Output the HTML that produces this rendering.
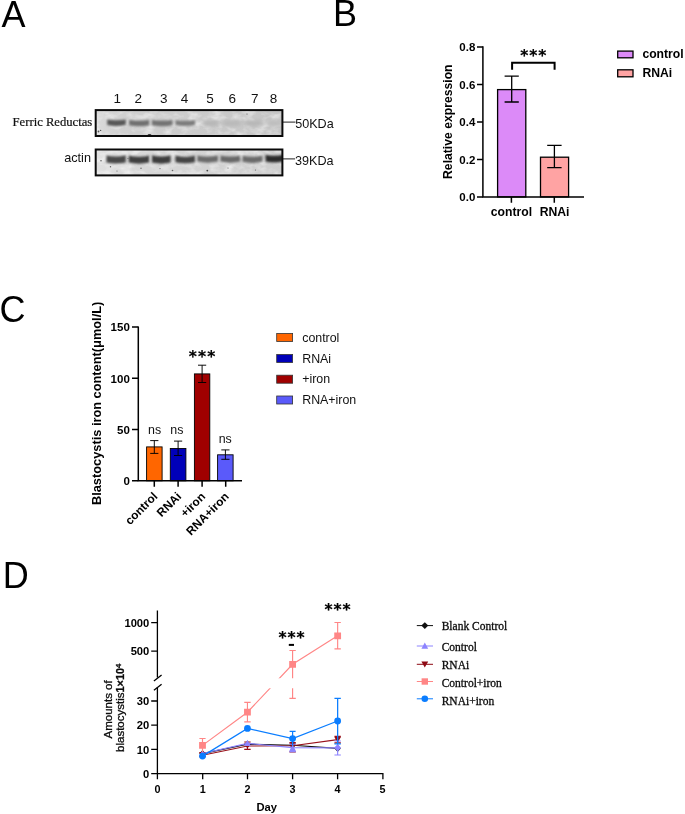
<!DOCTYPE html>
<html lang="en">
<head>
<meta charset="utf-8">
<title>Figure</title>
<style>
html,body{margin:0;padding:0;background:#fff;}
body{width:685px;height:814px;overflow:hidden;}
svg{display:block;}
.sans{font-family:"Liberation Sans",Arial,Helvetica,sans-serif;}
.serif{font-family:"Liberation Serif","Times New Roman",Times,serif;}
.b{font-weight:bold;}
.ast{font-family:"DejaVu Sans","Liberation Sans",sans-serif;font-weight:bold;}
</style>
</head>
<body>
<svg width="685" height="814" viewBox="0 0 685 814">
<defs>
<filter id="blur1" x="-20%" y="-60%" width="140%" height="220%"><feGaussianBlur stdDeviation="1.1 0.8"/></filter>
<filter id="blur0" x="-100%" y="-100%" width="300%" height="300%"><feGaussianBlur stdDeviation="0.5"/></filter>
<filter id="blur2" x="-20%" y="-50%" width="140%" height="200%"><feGaussianBlur stdDeviation="2.2 1.4"/></filter>
<filter id="noise" x="0" y="0" width="100%" height="100%">
<feTurbulence type="fractalNoise" baseFrequency="0.09 0.14" numOctaves="3" seed="7" result="n"/>
<feColorMatrix in="n" type="matrix" values="0 0 0 0 1  0 0 0 0 1  0 0 0 0 1  1.3 0 0 0 -0.55"/>
</filter>
<linearGradient id="bg1" x1="0" x2="1" y1="0" y2="0"><stop offset="0" stop-color="#dadada"/><stop offset="0.15" stop-color="#d0d0d0"/><stop offset="1" stop-color="#c5c5c5"/></linearGradient>
<linearGradient id="bg2" x1="0" x2="1" y1="0" y2="0"><stop offset="0" stop-color="#e0e0e0"/><stop offset="0.2" stop-color="#d8d8d8"/><stop offset="1" stop-color="#cecece"/></linearGradient>
<clipPath id="c1"><rect x="95.5" y="110" width="187" height="26"/></clipPath>
<clipPath id="c2"><rect x="95.5" y="149.5" width="187" height="26"/></clipPath>
</defs>

<!-- ===== Panel letters ===== -->
<g class="sans" font-size="36" fill="#000">
<text x="1.6" y="26.7">A</text>
<text x="333" y="26">B</text>
<text x="-0.4" y="322.4">C</text>
<text x="2.7" y="587.8">D</text>
</g>

<!-- ===== Panel A : western blot ===== -->
<g id="panelA">
<g class="sans" font-size="13.5" fill="#111" text-anchor="middle">
<text x="117.2" y="103">1</text><text x="138.3" y="103">2</text><text x="163.8" y="103">3</text><text x="184.6" y="103">4</text>
<text x="210.1" y="103">5</text><text x="232.3" y="103">6</text><text x="254.8" y="103">7</text><text x="273.4" y="103">8</text>
</g>
<text class="serif" font-size="12.65" x="12.6" y="125.9" fill="#111" stroke="#111" stroke-width="0.2">Ferric Reductas</text>
<text class="sans" font-size="12.7" x="64.2" y="162.1" fill="#111">actin</text>
<text class="sans" font-size="12.6" x="295.2" y="127.9" fill="#111">50KDa</text>
<text class="sans" font-size="12.6" x="295" y="164.5" fill="#111">39KDa</text>
<line x1="283" y1="122.1" x2="295.5" y2="122.1" stroke="#222" stroke-width="1"/>
<line x1="283" y1="158.9" x2="295" y2="158.9" stroke="#222" stroke-width="1"/>

<!-- blot 1 -->
<rect x="95.5" y="110" width="187" height="26" fill="url(#bg1)"/>
<g clip-path="url(#c1)">
<rect x="95.5" y="110" width="187" height="26" filter="url(#noise)" fill="#000"/>
<g filter="url(#blur1)">
<path d="M107.2 119.6Q116.5 120.8 125.8 119.6L125.8 125.0Q116.5 127.2 107.2 125.0Z" fill="#585858"/>
<path d="M129.1 120.0Q139.1 121.0 149.1 120.0L149.1 125.2Q139.1 127.4 129.1 125.2Z" fill="#707070"/>
<path d="M152.0 120.0Q162.2 121.2 172.5 120.0L172.5 125.2Q162.2 127.4 152.0 125.2Z" fill="#737373"/>
<path d="M175.4 120.2Q185.2 121.2 195.0 120.2L195.0 125.0Q185.2 127.2 175.4 125.0Z" fill="#7c7c7c"/>
</g>
<g filter="url(#blur2)">
<path d="M203.0 120.0Q211.0 120.6 219.0 120.0L219.0 125.5Q211.0 127.7 203.0 125.5Z" fill="#b8b8b8"/>
<path d="M223.0 120.0Q232.0 120.6 241.0 120.0L241.0 125.5Q232.0 127.7 223.0 125.5Z" fill="#bababa"/>
<path d="M245.0 120.0Q254.0 120.6 263.0 120.0L263.0 125.5Q254.0 127.7 245.0 125.5Z" fill="#b8b8b8"/>
<path d="M267.0 120.0Q273.5 120.6 280.0 120.0L280.0 125.5Q273.5 127.7 267.0 125.5Z" fill="#bebebe"/>
</g>
<g fill="#555" filter="url(#blur0)"><circle cx="98.5" cy="131.5" r="0.9"/><circle cx="100.6" cy="130.4" r="0.7"/><ellipse cx="149.5" cy="135.3" rx="2" ry="1.2" fill="#333"/><circle cx="247" cy="114" r="0.6"/></g>
</g>
<rect x="95.7" y="110.1" width="186.7" height="25.9" fill="none" stroke="#0a0a0a" stroke-width="2"/>

<!-- blot 2 -->
<rect x="95.5" y="149.5" width="187" height="26" fill="url(#bg2)"/>
<g clip-path="url(#c2)">
<rect x="95.5" y="149.5" width="187" height="26" filter="url(#noise)" fill="#000"/>
<g filter="url(#blur1)">
<path d="M106.4 155.2Q116.1 158.0 125.8 155.2L125.8 162.4Q116.1 164.6 106.4 162.4Z" fill="#4a4a4a"/>
<path d="M128.7 155.4Q138.9 158.2 149.1 155.4L149.1 162.6Q138.9 164.8 128.7 162.6Z" fill="#404040"/>
<path d="M152.0 155.2Q161.3 157.6 170.6 155.2L170.6 162.6Q161.3 164.8 152.0 162.6Z" fill="#3c3c3c"/>
<path d="M175.4 155.6Q185.2 158.2 195.0 155.6L195.0 162.2Q185.2 164.4 175.4 162.2Z" fill="#444"/>
<path d="M197.3 155.6Q207.7 157.6 218.0 155.6L218.0 161.6Q207.7 163.8 197.3 161.6Z" fill="#6a6a6a"/>
<path d="M220.3 155.4Q230.2 157.4 240.2 155.4L240.2 161.6Q230.2 163.8 220.3 161.6Z" fill="#686868"/>
<path d="M242.5 155.8Q252.4 157.8 262.4 155.8L262.4 161.8Q252.4 164.0 242.5 161.8Z" fill="#6a6a6a"/>
<path d="M265.5 154.8Q274.2 156.8 283.0 154.8L283.0 161.4Q274.2 163.6 265.5 161.4Z" fill="#2c2c2c"/>
</g>
<g fill="#666" filter="url(#blur0)"><circle cx="101" cy="160.8" r="0.8"/><circle cx="110.5" cy="166.8" r="0.7"/><circle cx="117" cy="171" r="0.6"/><circle cx="141" cy="168.2" r="0.7"/><circle cx="160" cy="168.6" r="0.6"/><circle cx="172.5" cy="170.5" r="0.8"/><circle cx="207.3" cy="170.6" r="0.9" fill="#444"/><circle cx="228" cy="168" r="0.6"/><circle cx="255.5" cy="170" r="0.6"/><circle cx="128" cy="158.5" r="0.6"/></g>
</g>
<rect x="95.7" y="149.5" width="186.7" height="25.9" fill="none" stroke="#0a0a0a" stroke-width="2"/>
</g>

<!-- ===== Panel B : bar chart ===== -->
<g id="panelB">
<!-- bars -->
<rect x="497.6" y="89.6" width="28.2" height="107.3" fill="#dc8af8" stroke="#000" stroke-width="1.3"/>
<rect x="540.5" y="157.2" width="28.1" height="39.7" fill="#ffa3a3" stroke="#000" stroke-width="1.3"/>
<!-- error bars -->
<g stroke="#000" stroke-width="1.3" fill="none">
<path d="M511.7 76.2V102M504.6 76.2H518.8M504.6 102H518.8"/>
<path d="M554.4 145.3V167.7M547.2 145.3H561.6M547.2 167.7H561.6"/>
</g>
<!-- axes -->
<g stroke="#000" stroke-width="1.5" fill="none">
<path d="M482.9 46.2V196.9H584"/>
<path d="M477 46.9H482.9M477 84.4H482.9M477 121.9H482.9M477 159.4H482.9M477 196.9H482.9"/>
<path d="M511.4 196.9V202.8M554.3 196.9V202.8"/>
<path d="M512.1 69.8V62.7H554.6V69.8" stroke-width="2"/>
</g>
<g class="sans b" font-size="11.5" fill="#000" text-anchor="end">
<text x="475.3" y="51.1">0.8</text><text x="475.3" y="88.6">0.6</text><text x="475.3" y="126.1">0.4</text><text x="475.3" y="163.6">0.2</text><text x="475.3" y="201.1">0.0</text>
</g>
<g class="sans b" font-size="12.2" fill="#000" text-anchor="middle">
<text x="511.4" y="216.3">control</text><text x="554.6" y="216.3">RNAi</text>
<text transform="translate(451.7 121.7) rotate(-90)">Relative expression</text>
</g>
<text class="ast" font-size="15.5" x="524.3 533.3 542.2" y="60.6" text-anchor="middle" fill="#000" stroke="#000" stroke-width="0.2">***</text>
<!-- legend -->
<rect x="617.7" y="51.1" width="15.3" height="6.7" fill="#dc8af8" stroke="#000" stroke-width="1.3"/>
<rect x="617.7" y="69.8" width="15.3" height="7" fill="#ffa3a3" stroke="#000" stroke-width="1.3"/>
<g class="sans b" font-size="12.2" fill="#000">
<text x="642.4" y="58.3">control</text><text x="642.4" y="77.4">RNAi</text>
</g>
</g>

<!-- ===== Panel C : bar chart ===== -->
<g id="panelC">
<rect x="146.6" y="446.9" width="15.5" height="33.9" fill="#ff6600" stroke="#000" stroke-width="0.9"/>
<rect x="170.3" y="448.5" width="15.6" height="32.3" fill="#0000b8" stroke="#000" stroke-width="0.9"/>
<rect x="194.4" y="373.9" width="15.4" height="106.9" fill="#a00000" stroke="#000" stroke-width="0.9"/>
<rect x="217.6" y="454.8" width="15.5" height="26" fill="#5a5afa" stroke="#000" stroke-width="0.9"/>
<g stroke="#000" stroke-width="0.95" fill="none">
<path d="M154.3 440.6V453.4M150.2 440.6H158.4M150.2 453.4H158.4"/>
<path d="M178.1 441.1V455.5M174 441.1H182.2M174 455.5H182.2"/>
<path d="M202.1 365.2V382.5M198 365.2H206.2M198 382.5H206.2"/>
<path d="M225.4 449.9V459.3M221.3 449.9H229.5M221.3 459.3H229.5"/>
</g>
<g stroke="#000" stroke-width="1.5" fill="none">
<path d="M138.3 326.4V480.8H242"/>
<path d="M132 327.1H138.3M132 378.3H138.3M132 429.6H138.3M132 480.8H138.3"/>
<path d="M154.3 480.8V486.8M178.1 480.8V486.8M202.1 480.8V486.8M225.7 480.8V486.8"/>
</g>
<g class="sans b" font-size="11.5" fill="#000" text-anchor="end">
<text x="129.8" y="331.3">150</text><text x="129.8" y="382.5">100</text><text x="129.8" y="433.8">50</text><text x="129.8" y="485">0</text>
</g>
<g class="sans b" font-size="11.8" fill="#000">
<text transform="translate(101.2 403.4) rotate(-90)" text-anchor="middle" font-size="12.8">Blastocystis iron content(μmol/L)</text>
<text transform="translate(158.2 497.2) rotate(-45)" text-anchor="end">control</text>
<text transform="translate(182 497.2) rotate(-45)" text-anchor="end">RNAi</text>
<text transform="translate(206 497.2) rotate(-45)" text-anchor="end">+iron</text>
<text transform="translate(229.6 497.2) rotate(-45)" text-anchor="end">RNA+iron</text>
</g>
<g class="sans" font-size="12.4" fill="#111" text-anchor="middle">
<text x="154.6" y="434">ns</text><text x="176.8" y="434">ns</text><text x="225.2" y="442.7">ns</text>
</g>
<text class="ast" font-size="15.5" x="192.9 202.1 211.3" y="362" text-anchor="middle" fill="#000" stroke="#000" stroke-width="0.2">***</text>
<!-- legend -->
<g stroke="#333" stroke-width="0.8">
<rect x="276.7" y="333.5" width="15.9" height="8" fill="#ff6600"/>
<rect x="276.7" y="354.5" width="15.9" height="8" fill="#0000b8"/>
<rect x="276.7" y="375.2" width="15.9" height="8" fill="#a00000"/>
<rect x="276.7" y="396" width="15.9" height="8" fill="#5a5afa"/>
</g>
<g class="sans" font-size="12.4" fill="#111">
<text x="302.2" y="341.9">control</text><text x="302.2" y="362.6">RNAi</text><text x="302.2" y="383.4">+iron</text><text x="302.2" y="404.4">RNA+iron</text>
</g>
</g>

<!-- ===== Panel D : line chart ===== -->
<g id="panelD">
<defs><clipPath id="brk"><path d="M160 600H400V678.2H160ZM160 688.2H400V773H160Z"/></clipPath></defs>
<!-- Blank control (black) -->
<g stroke="#111" fill="#111" stroke-width="1.15">
<polyline fill="none" points="202.5,753.6 247.45,744.2 292.6,745.2 337.65,748.4"/>
<path stroke="none" d="M202.5 750.1l3.1 3.5 -3.1 3.5 -3.1 -3.5zM247.45 740.7l3.1 3.5 -3.1 3.5 -3.1 -3.5zM292.6 741.7l3.1 3.5 -3.1 3.5 -3.1 -3.5zM337.65 744.9l3.1 3.5 -3.1 3.5 -3.1 -3.5z"/>
</g>
<!-- RNAi (dark red) -->
<g stroke="#98101a" fill="#8e0a14" stroke-width="1.15">
<polyline fill="none" points="202.5,755.2 247.45,746 292.6,745.8 337.65,739.6"/>
<path fill="none" d="M202.5 752.8V756.6M199.30 752.8H205.70M199.30 756.6H205.70M247.45 742V749.3M244.25 742H250.65M244.25 749.3H250.65M292.6 742.6V751.8M289.40 742.6H295.80M289.40 751.8H295.80M337.65 736.4V742.8M334.45 736.4H340.85M334.45 742.8H340.85"/>
<path stroke="none" d="M199.20 752.2h6.6l-3.3 5.8zM244.15 743.0h6.6l-3.3 5.8zM289.30 743.2h6.6l-3.3 5.8zM334.35 737.0h6.6l-3.3 5.8z"/>
</g>
<!-- Control (purple) -->
<g stroke="#8d84ff" fill="#8d84ff" stroke-width="1.15">
<polyline fill="none" points="202.5,753.5 247.45,743.4 292.6,747.6 337.65,747.8"/>
<path fill="none" d="M292.6 744.2V751.6M289.40 744.2H295.80M289.40 751.6H295.80M337.65 741V755M334.45 741H340.85M334.45 755H340.85"/>
<path stroke="none" d="M202.5 749.9l3.3 6.3h-6.6zM247.45 739.8l3.3 6.3h-6.6zM292.6 744.6l3.3 6.3h-6.6zM337.65 744.0l3.4 3.8 -3.4 3.8 -3.4 -3.8z"/>
</g>
<!-- Control+iron (pink) -->
<g stroke="#ff8686" fill="#ff8686" stroke-width="1.15">
<g clip-path="url(#brk)">
<polyline fill="none" points="202.5,745.4 247.45,712.2 292.6,664.3 337.65,635.8"/>
<path fill="none" d="M202.5 738.5V752.2M199.40 738.5H205.60M247.45 702.3V721.8M244.25 702.3H250.65M244.25 721.8H250.65M292.6 650.5V698.4M289.40 650.5H295.80M289.40 698.4H295.80M337.65 622.5V648.8M334.45 622.5H340.85M334.45 648.8H340.85"/>
</g>
<path stroke="none" d="M199.10 742.0h6.8v6.8h-6.8zM244.05 708.8h6.8v6.8h-6.8zM289.20 660.9h6.8v6.8h-6.8zM334.25 632.4h6.8v6.8h-6.8z"/>
</g>
<!-- RNAi+iron (blue) -->
<g stroke="#0a7dff" fill="#0a7dff" stroke-width="1.25">
<polyline fill="none" points="202.5,756.1 247.45,728.4 292.6,738.6 337.65,721.0"/>
<path fill="none" d="M292.6 731.4V745.8M289.60 731.4H295.60M337.65 698.3V743.8M334.45 698.3H340.85M334.45 743.8H340.85"/>
<circle cx="202.5" cy="756.1" r="3.4" stroke="none"/><circle cx="247.45" cy="728.4" r="3.4" stroke="none"/><circle cx="292.6" cy="738.6" r="3.4" stroke="none"/><circle cx="337.65" cy="721.0" r="3.4" stroke="none"/>
</g>
<!-- axes -->
<g stroke="#000" stroke-width="1.3" fill="none">
<path d="M157.4 610.4V677.4M157.4 687.2V779.2"/>
<path d="M153.9 681L161.6 674.9M153.9 690.2L161.6 684.3"/>
<path d="M151.2 773.6H382.9"/>
<path d="M151.2 622.6H157.4M151.2 651.2H157.4M151.2 701H157.4M151.2 725.2H157.4M151.2 749.4H157.4"/>
<path d="M202.7 773.6V779.2M247.5 773.6V779.2M292.6 773.6V779.2M337.6 773.6V779.2M382.9 773V779.2"/>
</g>
<g class="sans b" font-size="11.2" fill="#000" text-anchor="end">
<text x="149.3" y="626.7">1000</text><text x="149.3" y="655.3">500</text><text x="149.3" y="705.1">30</text><text x="149.3" y="729.3">20</text><text x="149.3" y="753.5">10</text><text x="149.3" y="777.8">0</text>
</g>
<g class="sans b" font-size="10.8" fill="#000" text-anchor="middle">
<text x="157.6" y="792.5">0</text><text x="202.7" y="792.5">1</text><text x="247.5" y="792.5">2</text><text x="292.6" y="792.5">3</text><text x="337.6" y="792.5">4</text><text x="382.5" y="792.5">5</text>
<text x="266.8" y="810.8" font-size="11.2">Day</text>
</g>
<g class="sans" font-size="11.5" fill="#0c0c0c" stroke="#0c0c0c" stroke-width="0.3" text-anchor="middle">
<text transform="translate(112 709.4) rotate(-90)">Amounts of</text>
<text transform="translate(124.4 707.8) rotate(-90)">blastocystis<tspan font-weight="bold" font-size="10.9" stroke-width="0.3">1×10</tspan><tspan font-weight="bold" stroke-width="0.3" font-size="7.8" dy="-3.2">4</tspan></text>
</g>
<text class="ast" font-size="15.5" x="282.5 291.5 300.5" y="643.3" text-anchor="middle" fill="#000" stroke="#000" stroke-width="0.2">***</text>
<path d="M288.8 644.9H294" stroke="#000" stroke-width="2"/>
<text class="ast" font-size="15.5" x="328.5 337.5 346.5" y="615.1" text-anchor="middle" fill="#000" stroke="#000" stroke-width="0.2">***</text>
<!-- legend -->
<g stroke-width="1">
<path d="M416.8 625.6H433" stroke="#111"/><path d="M424.8 622.3l3.5 3.3-3.5 3.3-3.5-3.3z" fill="#111"/>
<path d="M416.8 646H433" stroke="#8d84ff"/><path d="M424.8 642.6l3.4 6.2h-6.8z" fill="#8d84ff"/>
<path d="M416.8 664.3H433" stroke="#8e0a14"/><path d="M421.4 661.6h6.8l-3.4 6z" fill="#8e0a14"/>
<path d="M416.8 681.5H433" stroke="#ff8686"/><path d="M421.6 678.3h6.4v6.4h-6.4z" fill="#ff8686"/>
<path d="M416.8 698.8H433" stroke="#0a7dff"/><circle cx="424.8" cy="698.8" r="3.3" fill="#0a7dff"/>
</g>
<g class="serif" font-size="11.5" fill="#0c0c0c" stroke="#0c0c0c" stroke-width="0.3">
<text x="441.7" y="629.8">Blank Control</text><text x="441.7" y="650.5">Control</text><text x="441.7" y="669.4">RNAi</text><text x="441.7" y="686.8">Control+iron</text><text x="441.7" y="704.5">RNAi+iron</text>
</g>
</g>
</svg>
</body>
</html>
